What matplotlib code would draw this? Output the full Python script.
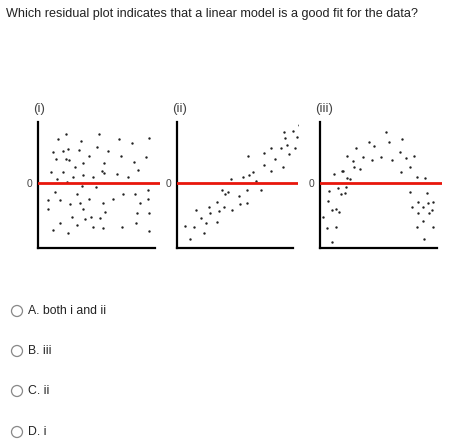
import numpy as np
import matplotlib.pyplot as plt
from matplotlib.patches import Circle

W, H = 474, 441

# points (zoomed pixel coords: x, y)
pts_i = [(145,300),(143,328),(158,390),(153,215),(160,157),(168,178),(172,236),(175,117),(165,275),(180,300),
         (180,368),(188,152),(190,216),(198,102),(197,177),(200,245),(203,400),(205,147),(208,180),(210,312),
         (215,350),(220,230),(225,202),(230,283),(232,375),(236,150),(240,308),(243,122),(245,258),(248,188),
         (248,327),(250,225),(255,357),(266,297),(268,168),(272,350),(278,232),(278,382),(287,262),(290,142),
         (296,102),(300,353),(305,212),(308,310),(308,383),(312,188),(312,218),(315,335),(325,152),(340,297),
         (350,221),(358,117),(362,168),(366,382),(370,283),(384,232),(395,130),(402,186),(405,283),(408,370),
         (412,340),(415,209),(420,310),(438,170),(443,297),(445,270),(447,113),(447,338),(446,393)]
pts_ii = [(555,378),(570,418),(582,380),(588,330),(604,355),(612,398),(618,370),(627,320),(630,340),(650,305),
          (652,366),(658,333),(665,270),(672,320),(676,282),(685,275),(692,238),(697,330),(716,288),(720,313),
          (728,230),(740,308),(742,270),(744,168),(746,225),(760,216),(768,244),(782,270),(792,195),(792,160),
          (812,213),(812,144),(826,177),(842,145),(848,200),(852,95),(855,113),(860,135),(867,162),(878,92),
          (885,145),(890,110),(896,76)]
pts_iii = [(970,352),(980,385),(985,303),(988,272),(995,330),(997,425),(1003,222),(1007,380),(1008,328),(1015,265),
           (1018,337),(1022,283),(1025,213),(1028,213),(1035,278),(1038,260),(1040,233),(1040,168),(1050,238),(1060,182),
           (1062,200),(1068,145),(1080,207),(1088,170),(1108,127),(1116,180),(1122,138),(1142,170),(1158,95),(1168,127),
           (1176,180),(1200,155),(1203,217),(1207,118),(1218,173),(1230,200),(1241,167),(1252,230),(1230,275),(1255,305),
           (1235,320),(1270,320),(1275,235),(1282,280),(1255,340),(1268,362),(1251,382),(1272,418),(1288,340),(1295,330),
           (1300,307),(1298,382),(1285,310)]
panels = [("(i)", pts_i, 115), ("(ii)", pts_ii, 530), ("(iii)", pts_iii, 960)]
options = ["A. both i and ii", "B. iii", "C. ii", "D. i"]
option_y = [311, 351, 391, 432]

fig = plt.figure(figsize=(W/100, H/100), dpi=100)
plt.rcParams['font.family'] = ['Liberation Sans', 'DejaVu Sans']

fig.text(6/W, 1-14/H, "Which residual plot indicates that a linear model is a good fit for the data?",
         fontsize=9.1, va='center', ha='left', color='#222222')

for label, pts, left in panels:
    # axes spans zoom x [left, left+365], zoom y [65, 445]
    x0 = (left/3)/W
    ax = fig.add_axes([x0, 1-(100+445/3)/H, (365/3)/W, (380/3)/H])
    xs = np.array([p[0] - left for p in pts])
    ys = np.array([250 - p[1] for p in pts])
    ax.scatter(xs, ys, s=3, color='#222222', linewidths=0)
    ax.axhline(0, color='#e8160c', lw=2, zorder=3)
    ax.set_xlim(0, 365)
    ax.set_ylim(-195, 185)
    for s in ['top', 'right']:
        ax.spines[s].set_visible(False)
    for s in ['left', 'bottom']:
        ax.spines[s].set_linewidth(1.6)
    ax.spines['bottom'].set_bounds(0, 350)
    ax.set_xticks([])
    ax.set_yticks([0])
    ax.set_yticklabels(['0'], fontsize=7.5, color='#444444')
    ax.tick_params(axis='y', length=0, pad=4)
    ax.patch.set_alpha(0)
    fig.text((left/3 - 5)/W, 1-109/H, label, fontsize=9.5, color='#444444', va='center', ha='left')

for txt, y in zip(options, option_y):
    fig.patches.append(Circle((17, H-y), 5.5, transform=None, fill=False,
                              edgecolor='#888888', lw=0.9, figure=fig))
    fig.text(28/W, 1-y/H, txt, fontsize=8.8, va='center', ha='left', color='#222222')

fig.savefig("out.png", dpi=100)
